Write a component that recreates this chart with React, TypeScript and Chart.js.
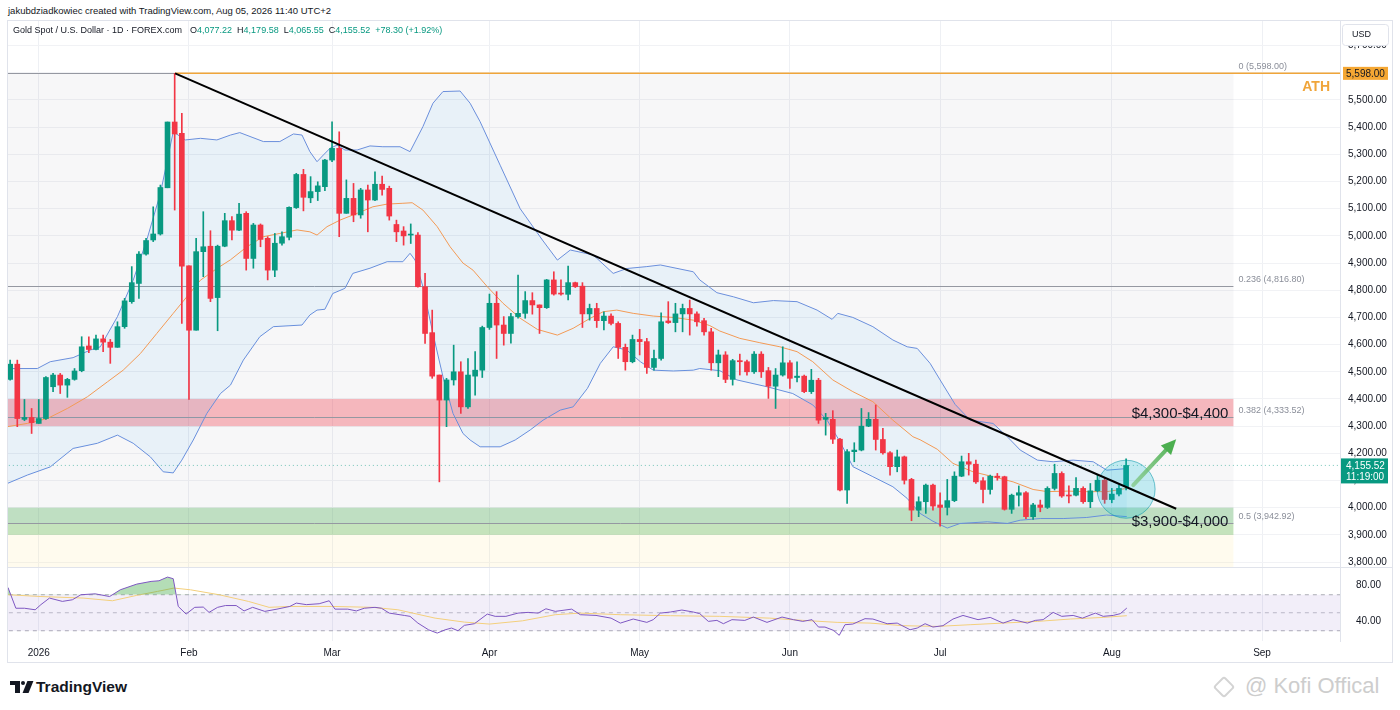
import React, { useEffect, useRef } from "react";
import { Chart, registerables } from "chart.js";

Chart.register(...registerables);

const FONT = '"Liberation Sans", Arial, sans-serif';
const UP = "#089981";
const DOWN = "#f23645";
const TEXT = "#131722";

// ---------- candles (daily, index 0 = Dec 26 2025) ----------
const candleOpen = [
  4472, 4528, 4325, 4332, 4310, 4328, 4445, 4488, 4451, 4472,
  4504, 4595, 4582, 4621, 4609, 4590, 4666, 4758, 4825, 4933,
  4985, 5007, 5177, 5419, 5377, 4890, 4653, 4942, 4962, 4773,
  4962, 5056, 5021, 5083, 4917, 5040, 4991, 4874, 4973, 4995,
  5104, 5226, 5140, 5163, 5181, 5279, 5322, 5083, 5138, 5077,
  5169, 5132, 5190, 5175, 5042, 5018, 5003, 5003, 4813, 4644,
  4488, 4396, 4470, 4500, 4371, 4484, 4506, 4663, 4752, 4672,
  4641, 4703, 4715, 4762, 4746, 4736, 4838, 4789, 4785, 4828,
  4815, 4713, 4733, 4688, 4705, 4678, 4590, 4537, 4619, 4611,
  4516, 4549, 4687, 4681, 4713, 4733, 4713, 4688, 4647, 4533,
  4562, 4472, 4541, 4537, 4500, 4565, 4504, 4447, 4488, 4533,
  4479, 4484, 4427, 4469, 4325, 4325, 4252, 4065, 4206, 4212,
  4300, 4325, 4251, 4202, 4151, 4187, 4104, 3991, 4022, 4083,
  4010, 4001, 4026, 4116, 4169, 4160, 4099, 4067, 4116, 4114,
  3994, 4046, 4055, 3967, 4010, 4001, 4071, 4126, 4046, 4046,
  4071, 4022, 4062, 4101, 4030, 4050, 4077.22,
];
const candleHigh = [
  4543, 4543, 4398, 4365, 4398, 4482, 4494, 4494, 4476, 4512,
  4629, 4629, 4635, 4635, 4619, 4684, 4770, 4887, 4942, 4991,
  5107, 5187, 5419, 5598, 5451, 4890, 4991, 5089, 5019, 4966,
  5083, 5071, 5120, 5089, 5046, 5044, 4997, 5009, 5015, 5107,
  5230, 5245, 5218, 5199, 5282, 5420, 5383, 5206, 5193, 5175,
  5187, 5236, 5220, 5183, 5058, 5034, 5044, 5012, 4862, 4727,
  4488, 4476, 4598, 4537, 4549, 4574, 4668, 4786, 4795, 4703,
  4715, 4856, 4795, 4791, 4746, 4840, 4868, 4838, 4889, 4830,
  4828, 4749, 4752, 4721, 4713, 4684, 4602, 4635, 4656, 4623,
  4580, 4717, 4758, 4752, 4749, 4764, 4721, 4697, 4660, 4580,
  4574, 4546, 4565, 4543, 4574, 4574, 4516, 4512, 4592, 4541,
  4537, 4488, 4509, 4476, 4347, 4357, 4255, 4214, 4239, 4365,
  4350, 4378, 4292, 4206, 4212, 4190, 4108, 4040, 4087, 4087,
  4055, 4104, 4132, 4190, 4200, 4175, 4111, 4120, 4126, 4116,
  4050, 4080, 4059, 4016, 4028, 4077, 4160, 4132, 4080, 4111,
  4077, 4089, 4120, 4111, 4071, 4083, 4179.58,
];
const candleLow = [
  4469, 4298, 4320, 4273, 4310, 4325, 4427, 4420, 4406, 4469,
  4500, 4570, 4580, 4574, 4531, 4590, 4660, 4752, 4770, 4929,
  4979, 5003, 5177, 5095, 4678, 4398, 4653, 4850, 4758, 4651,
  4960, 4985, 5019, 4874, 4881, 4960, 4838, 4850, 4966, 4985,
  5101, 5092, 5122, 5130, 5166, 5273, 4997, 5083, 5052, 5065,
  5015, 5130, 5150, 5058, 4979, 4966, 4972, 4811, 4604, 4476,
  4095, 4298, 4451, 4347, 4365, 4414, 4479, 4656, 4549, 4598,
  4605, 4697, 4697, 4712, 4641, 4733, 4782, 4782, 4764, 4810,
  4663, 4690, 4663, 4654, 4672, 4549, 4506, 4533, 4562, 4494,
  4506, 4543, 4678, 4647, 4647, 4635, 4668, 4635, 4506, 4482,
  4460, 4451, 4488, 4488, 4494, 4479, 4402, 4365, 4484, 4439,
  4463, 4423, 4420, 4310, 4267, 4236, 4062, 4016, 4169, 4209,
  4298, 4212, 4197, 4120, 4132, 4087, 3952, 3967, 3979, 3991,
  3932, 3973, 4022, 4114, 4120, 4089, 4018, 4050, 4101, 3991,
  3979, 4006, 3960, 3957, 3985, 3997, 4065, 4038, 4018, 4043,
  4016, 4000, 4059, 4016, 4018, 4043, 4065.55,
];
const candleClose = [
  4528, 4328, 4332, 4313, 4328, 4479, 4488, 4451, 4472, 4503,
  4592, 4582, 4621, 4609, 4590, 4666, 4761, 4828, 4933, 4983,
  5007, 5178, 5419, 5375, 4889, 4653, 4942, 4960, 4770, 4962,
  5056, 5021, 5080, 4917, 5040, 4987, 4874, 4973, 4997, 5105,
  5226, 5142, 5163, 5184, 5279, 5322, 5083, 5138, 5077, 5169,
  5132, 5190, 5171, 5073, 5015, 5000, 5006, 4813, 4641, 4484,
  4396, 4470, 4500, 4371, 4488, 4506, 4663, 4752, 4672, 4641,
  4703, 4715, 4762, 4746, 4736, 4838, 4786, 4786, 4828, 4813,
  4713, 4733, 4688, 4705, 4678, 4590, 4537, 4619, 4611, 4516,
  4549, 4684, 4681, 4713, 4733, 4713, 4684, 4647, 4533, 4562,
  4472, 4541, 4537, 4500, 4565, 4500, 4447, 4488, 4533, 4476,
  4484, 4427, 4469, 4322, 4332, 4252, 4065, 4206, 4212, 4300,
  4325, 4251, 4202, 4151, 4187, 4101, 3991, 4022, 4083, 4006,
  4001, 4026, 4116, 4169, 4160, 4095, 4067, 4116, 4111, 3994,
  4046, 4055, 3967, 4010, 4001, 4071, 4126, 4043, 4043, 4071,
  4022, 4062, 4101, 4030, 4050, 4071, 4155.52,
];

// ---------- axis ticks ----------
const monthTickIdx = [4, 25, 45, 67, 88, 109, 130, 154, 175];
const monthTickLabels = ["2026", "Feb", "Mar", "Apr", "May", "Jun", "Jul", "Aug", "Sep"];
const priceTicks = [3800, 3900, 4000, 4100, 4200, 4300, 4400, 4500, 4600, 4700, 4800, 4900, 5000, 5100, 5200, 5300, 5400, 5500, 5600, 5700];
const rsiTicks = [40, 80];

// ---------- Bollinger bands ([bar index, price]) ----------
const bbUpper = [
  [-0.4, 4512], [3.8, 4512], [5.6, 4537], [8.8, 4552], [11.2, 4580], [12.6, 4592], [15.0, 4703], [17.2, 4837],
  [19.1, 4985], [21.0, 5156], [22.8, 5383], [24.5, 5353], [26.6, 5359], [28.9, 5353], [30.8, 5371], [32.1, 5380],
  [35.4, 5347], [37.7, 5347], [39.6, 5375], [40.8, 5371], [41.9, 5310], [42.9, 5273], [43.8, 5298], [44.7, 5322],
  [45.7, 5334], [46.8, 5316], [48.5, 5316], [50.3, 5331], [52.1, 5328], [54.5, 5328], [55.9, 5310], [57.7, 5402],
  [59.1, 5488], [60.5, 5531], [62.9, 5533], [64.3, 5488], [65.7, 5420], [68.5, 5260], [71.3, 5100], [74.4, 4985],
  [76.5, 4911], [78.3, 4948], [81.5, 4930], [84.3, 4862], [86.2, 4880], [89.0, 4887], [90.9, 4893], [95.5, 4868],
  [96.4, 4838], [98.8, 4791], [101.1, 4776], [103.9, 4754], [106.7, 4762], [110.0, 4758], [112.8, 4727], [114.9, 4693],
  [115.7, 4715], [117.8, 4700], [120.6, 4666], [123.4, 4617], [125.4, 4592], [126.8, 4586], [128.6, 4531], [130.0, 4470],
  [132.1, 4380], [134.2, 4322], [137.4, 4310], [139.4, 4261], [141.2, 4212], [143.6, 4175], [145.8, 4169], [148.6, 4175],
  [151.4, 4169], [153.3, 4138], [156.1, 4144],
];
const bbLower = [
  [-0.4, 4089], [2.4, 4120], [5.6, 4150], [8.8, 4218], [12.2, 4237], [15.0, 4267], [17.2, 4237], [19.6, 4187],
  [21.4, 4132], [22.8, 4128], [24.0, 4175], [25.6, 4249], [27.5, 4347], [29.4, 4420], [30.8, 4451], [32.6, 4543],
  [34.9, 4629], [36.8, 4666], [40.8, 4672], [41.9, 4709], [42.9, 4727], [44.0, 4730], [45.1, 4788], [46.8, 4807],
  [47.9, 4862], [50.3, 4881], [52.7, 4905], [54.9, 4905], [55.9, 4936], [56.6, 4911], [57.7, 4813], [59.1, 4641],
  [60.5, 4482], [61.9, 4347], [63.3, 4273], [64.3, 4249], [65.7, 4224], [68.5, 4224], [70.6, 4249], [72.7, 4286],
  [74.5, 4322], [76.9, 4359], [78.7, 4371], [80.7, 4439], [82.5, 4531], [84.3, 4592], [86.2, 4580], [88.1, 4537],
  [89.9, 4506], [92.7, 4503], [95.5, 4506], [96.4, 4512], [99.2, 4504], [101.6, 4470], [105.8, 4445], [109.4, 4420],
  [112.2, 4378], [114.2, 4322], [116.0, 4243], [117.8, 4151], [120.6, 4114], [123.4, 4077], [125.4, 4034], [127.2, 3979],
  [129.0, 3950], [131.0, 3925], [132.8, 3942], [136.6, 3948], [139.4, 3942], [141.2, 3954], [144.0, 3960], [147.2, 3960],
  [150.5, 3964], [153.3, 3973], [156.1, 3967],
];
const bbBasis = [
  [-0.4, 4298], [2.4, 4310], [5.2, 4328], [8.0, 4365], [10.8, 4408], [13.6, 4463], [15.8, 4506], [18.2, 4567],
  [20.5, 4641], [22.8, 4715], [24.7, 4776], [26.6, 4837], [28.9, 4880], [30.8, 4912], [33.1, 4960], [35.4, 4997],
  [37.7, 5009], [40.1, 5022], [41.9, 5015], [42.9, 5003], [44.3, 5034], [46.1, 5058], [48.5, 5083], [50.7, 5107],
  [52.7, 5117], [54.9, 5120], [56.2, 5122], [57.7, 5095], [59.7, 5034], [61.5, 4960], [63.3, 4900], [64.7, 4874],
  [66.7, 4813], [68.9, 4752], [71.3, 4697], [73.7, 4656], [76.5, 4635], [78.7, 4660], [81.1, 4697], [82.9, 4721],
  [84.8, 4727], [87.1, 4715], [89.9, 4705], [92.7, 4700], [95.5, 4690], [97.8, 4670], [99.2, 4650], [102.0, 4623],
  [104.8, 4607], [107.6, 4592], [110.0, 4574], [112.2, 4537], [115.0, 4470], [117.8, 4427], [120.6, 4390], [123.4, 4322],
  [126.2, 4261], [127.2, 4250], [129.6, 4215], [131.8, 4163], [134.6, 4132], [137.4, 4114], [140.2, 4095], [143.0, 4067],
  [145.0, 4059], [147.8, 4061], [150.5, 4059], [153.3, 4059], [156.1, 4071],
];

// ---------- RSI pane ----------
const rsiLine = [
  [-0.3, 78], [0.8, 55], [2.0, 55], [3.5, 53.3], [4.3, 59], [5.5, 66.3], [7.3, 62.6], [8.7, 64.4], [9.9, 70],
  [11.9, 71], [13.9, 68], [15.4, 75.5], [17.7, 81.8], [19.7, 84.8], [20.8, 85.5], [22.0, 89.6], [22.8, 87.8],
  [23.5, 57], [24.6, 48.5], [25.8, 56], [27.0, 56.3], [27.8, 50.4], [29.0, 56], [30.1, 58], [31.6, 58], [32.7, 52],
  [33.9, 56], [35.6, 51.5], [37.3, 54], [39.1, 57], [40.0, 60.7], [41.4, 59], [43.2, 60], [44.6, 63.3], [45.4, 54],
  [47.2, 54], [48.4, 52], [49.5, 55], [51.0, 56], [51.9, 55], [53.0, 49.6], [55.1, 47], [55.9, 46], [57.0, 38.5],
  [58.5, 31], [59.7, 27.4], [60.8, 31], [61.7, 33], [62.6, 30], [63.5, 36], [64.9, 37.8], [66.7, 48.5], [67.8, 46],
  [69.3, 46], [71.0, 49.6], [72.4, 50.4], [73.8, 49.6], [74.9, 54.4], [76.2, 51.5], [78.5, 54], [79.7, 47.8],
  [81.9, 47], [84.0, 44], [85.3, 38.5], [87.1, 43], [89.0, 39.3], [89.9, 42.3], [90.9, 49.6], [92.3, 50.8],
  [93.9, 53], [95.5, 50.8], [96.4, 49], [97.6, 40.4], [98.8, 41.5], [99.7, 37.8], [100.9, 42.3], [102.7, 41.5],
  [103.9, 45.2], [105.8, 39.3], [107.9, 45.2], [109.5, 42.3], [110.8, 40.4], [112.1, 42.3], [113.0, 34.1],
  [113.9, 34.1], [115.1, 30.4], [115.9, 24.9], [116.7, 36.7], [117.8, 37.4], [119.5, 43.4], [120.6, 43],
  [122.6, 37.8], [124.0, 38.5], [125.8, 31.1], [126.8, 33], [127.9, 37.8], [129.0, 34.1], [130.4, 35.6],
  [131.8, 43], [133.2, 47], [135.3, 42.3], [137.0, 44.8], [138.8, 38.5], [140.2, 42.3], [142.2, 38.5],
  [143.3, 41.5], [144.4, 42.3], [145.8, 50.4], [147.0, 46], [148.6, 47], [149.9, 44], [151.7, 49.6],
  [152.8, 46], [154.2, 47], [155.2, 49], [156.1, 55.2],
];
const rsiMa = [
  [-0.3, 70], [4.3, 68], [10.2, 66.3], [14.3, 63.3], [17.7, 69.3], [20.6, 73.7], [22.9, 77.4], [25.2, 75.5],
  [29.2, 70], [33.3, 62.6], [36.2, 56], [39.1, 57], [44.9, 57], [50.7, 56], [54.2, 53.3], [59.4, 44], [63.5, 39.6],
  [67.0, 37.4], [71.6, 41], [76.2, 47.8], [79.7, 49.6], [85.3, 47.8], [92.3, 46.7], [99.2, 46], [106.2, 44],
  [110.8, 41.5], [115.6, 39.3], [120.2, 38.5], [124.8, 35.6], [129.6, 34.8], [134.2, 36.7], [138.8, 38.5],
  [143.6, 40.4], [148.2, 43], [152.8, 44.8], [156.1, 46.7],
];
const rsiLevels = [70, 50, 30];

// ---------- drawings ----------
const fibRatios = ["0", "0.236", "0.382", "0.5", "0.618"];
const fibPrices = [5598, 4816.8, 4333.52, 3942.92, 3552.3];
const fibEndIdx = 171;
const resistanceZone = [4300, 4400];
const supportZone = [3900, 4000];
const resistanceLabel = "$4,300-$4,400";
const supportLabel = "$3,900-$4,000";
const trendLine = [[23.06, 5598], [163, 3996]];
const athStartIdx = 23.06;
const athPrice = 5598;
const lastPrice = 4155.52;
const lastTime = "11:19:00";
const arrowLine = [[157, 4083], [163, 4252]];
const focusCircle = { x: 156, y: 4068, r: 29 };

const X_MIN = -0.3;
const X_MAX = 185.9;
const PRICE_MIN = 3778.1;
const PRICE_MAX = 5794.3;
const RSI_MIN = 18.6;
const RSI_MAX = 99.7;
const AXIS_W = 52;

const fmt2 = (v: number) =>
  v.toLocaleString("en-US", { minimumFractionDigits: 2, maximumFractionDigits: 2 });
const pts = (arr: number[][]) => arr.map(([x, y]) => ({ x, y }));
const zeroPad = (s: any) => {
  s.paddingTop = 0;
  s.paddingBottom = 0;
  s.paddingLeft = 0;
  s.paddingRight = 0;
};

const BODY_INDEX = 1;

function PriceChart() {
  const ref = useRef<HTMLCanvasElement>(null);
  useEffect(() => {
    const ids = candleOpen.map((_, i) => i);
    const cols = ids.map((i) => (candleClose[i] >= candleOpen[i] ? UP : DOWN));

    const overlay = {
      id: "overlay",
      beforeDatasetsDraw(chart: any) {
        const { ctx, chartArea: a, scales } = chart;
        const x = scales.x;
        const y = scales.y;
        const xl = a.left;
        const xr = x.getPixelForValue(fibEndIdx);
        ctx.save();
        ctx.beginPath();
        ctx.rect(a.left, a.top, a.width, a.height);
        ctx.clip();
        const fills = ["rgba(120,123,134,0.06)", "rgba(120,123,134,0.06)", "rgba(120,123,134,0.06)", "rgba(255,232,150,0.16)"];
        for (let i = 0; i < fibPrices.length - 1; i++) {
          const y1 = y.getPixelForValue(fibPrices[i]);
          const y2 = y.getPixelForValue(fibPrices[i + 1]);
          ctx.fillStyle = fills[i];
          ctx.fillRect(xl, y1, xr - xl, y2 - y1);
        }
        const zone = (z: number[], c: string) => {
          const y1 = y.getPixelForValue(z[1]);
          const y2 = y.getPixelForValue(z[0]);
          ctx.fillStyle = c;
          ctx.fillRect(xl, y1, xr - xl, y2 - y1);
        };
        zone(resistanceZone, "rgba(242,54,69,0.33)");
        zone(supportZone, "rgba(76,175,80,0.32)");
        ctx.strokeStyle = "#9598a1";
        ctx.lineWidth = 1;
        for (let i = 0; i < fibPrices.length; i++) {
          const yy = Math.round(y.getPixelForValue(fibPrices[i])) + 0.5;
          ctx.beginPath();
          ctx.moveTo(xl, yy);
          ctx.lineTo(xr, yy);
          ctx.stroke();
        }
        ctx.restore();
      },
      afterDatasetDraw(chart: any, args: any) {
        if (args.index !== BODY_INDEX) return;
        const { ctx, scales } = chart;
        const cx = scales.x.getPixelForValue(focusCircle.x);
        const cy = scales.y.getPixelForValue(focusCircle.y);
        ctx.save();
        ctx.beginPath();
        ctx.arc(cx, cy, focusCircle.r, 0, Math.PI * 2);
        ctx.fillStyle = "rgba(0,188,212,0.22)";
        ctx.fill();
        ctx.strokeStyle = "rgba(0,150,170,0.55)";
        ctx.lineWidth = 1;
        ctx.stroke();
        ctx.restore();
      },
      afterDatasetsDraw(chart: any) {
        const { ctx, scales } = chart;
        const x = scales.x;
        const y = scales.y;
        const xr = x.getPixelForValue(fibEndIdx);
        ctx.save();
        // fib labels
        ctx.font = `9px ${FONT}`;
        ctx.fillStyle = "#8a8e99";
        ctx.textAlign = "left";
        ctx.textBaseline = "alphabetic";
        for (let i = 0; i < 4; i++) {
          const yy = y.getPixelForValue(fibPrices[i]);
          ctx.fillText(`${fibRatios[i]} (${fmt2(fibPrices[i])})`, xr + 5, yy - 4);
        }
        // zone labels
        ctx.font = `15px ${FONT}`;
        ctx.fillStyle = "#131722";
        ctx.textAlign = "right";
        ctx.textBaseline = "middle";
        ctx.fillText(resistanceLabel, xr - 5, y.getPixelForValue((resistanceZone[0] + resistanceZone[1]) / 2) + 1);
        ctx.fillText(supportLabel, xr - 5, y.getPixelForValue((supportZone[0] + supportZone[1]) / 2) + 1);
        // arrow
        const ax1 = x.getPixelForValue(arrowLine[0][0]);
        const ay1 = y.getPixelForValue(arrowLine[0][1]);
        const ax2 = x.getPixelForValue(arrowLine[1][0]);
        const ay2 = y.getPixelForValue(arrowLine[1][1]);
        const ang = Math.atan2(ay2 - ay1, ax2 - ax1);
        const head = 15;
        const bx = ax2 - Math.cos(ang) * head;
        const by = ay2 - Math.sin(ang) * head;
        const grad = ctx.createLinearGradient(ax1, ay1, ax2, ay2);
        grad.addColorStop(0, "rgba(129,199,132,0.75)");
        grad.addColorStop(1, "#4caf50");
        ctx.strokeStyle = grad;
        ctx.fillStyle = "#4caf50";
        ctx.lineWidth = 4;
        ctx.lineCap = "round";
        ctx.beginPath();
        ctx.moveTo(ax1, ay1);
        ctx.lineTo(bx + Math.cos(ang) * 2, by + Math.sin(ang) * 2);
        ctx.stroke();
        const px = -Math.sin(ang);
        const py = Math.cos(ang);
        ctx.beginPath();
        ctx.moveTo(ax2, ay2);
        ctx.lineTo(bx + px * 7, by + py * 7);
        ctx.lineTo(bx - px * 7, by - py * 7);
        ctx.closePath();
        ctx.fill();
        ctx.restore();
      },
      afterDraw(chart: any) {
        const { ctx, chartArea: a, scales } = chart;
        const y = scales.y;
        const axL = a.right;
        ctx.save();
        // "ATH" text
        const yAth = y.getPixelForValue(athPrice);
        ctx.font = `bold 14px ${FONT}`;
        ctx.fillStyle = "#f0a53a";
        ctx.textAlign = "right";
        ctx.textBaseline = "middle";
        ctx.fillText("ATH", a.right - 10, yAth + 14);
        // ATH price tag
        ctx.fillStyle = "#f5a733";
        ctx.fillRect(axL + 3, yAth - 6.5, 45, 13);
        ctx.fillStyle = TEXT;
        ctx.font = `10px ${FONT}`;
        ctx.textAlign = "left";
        ctx.fillText(fmt2(athPrice), axL + 6, yAth + 0.5);
        // last price tag
        const yl = y.getPixelForValue(lastPrice);
        ctx.fillStyle = UP;
        ctx.fillRect(axL + 1, yl - 7, 47, 25);
        ctx.fillStyle = "#ffffff";
        ctx.fillText(fmt2(lastPrice), axL + 6, yl + 0.5);
        ctx.fillText(lastTime, axL + 6, yl + 11.5);
        // USD box
        ctx.fillStyle = "#ffffff";
        ctx.strokeStyle = "#e0e3eb";
        ctx.lineWidth = 1;
        ctx.beginPath();
        ctx.roundRect(axL + 2.5, 4.5, 46, 21, 3);
        ctx.fill();
        ctx.stroke();
        ctx.fillStyle = TEXT;
        ctx.font = `9px ${FONT}`;
        ctx.fillText("USD", axL + 12, 15);
        ctx.restore();
      },
    };

    const chart = new Chart(ref.current as HTMLCanvasElement, {
      type: "bar",
      data: {
        datasets: [
          {
            type: "line",
            data: pts(trendLine),
            borderColor: "#000000",
            borderWidth: 2,
            pointRadius: 0,
            order: -1,
          },
          {
            type: "bar",
            data: ids.map((i) => ({ x: i, y: [candleOpen[i], candleClose[i]] })),
            backgroundColor: cols,
            borderWidth: 0,
            barThickness: 5,
            minBarLength: 1,
            grouped: false,
            order: 0,
          } as any,
          {
            type: "bar",
            data: ids.map((i) => ({ x: i, y: [candleLow[i], candleHigh[i]] })),
            backgroundColor: cols,
            borderWidth: 0,
            barThickness: 1,
            grouped: false,
            order: 1,
          } as any,
          {
            type: "line",
            data: pts(bbBasis),
            borderColor: "#f39a55",
            borderWidth: 1,
            pointRadius: 0,
            order: 2,
          },
          {
            type: "line",
            data: [{ x: athStartIdx, y: athPrice }, { x: X_MAX + 1, y: athPrice }],
            borderColor: "#f0a53a",
            borderWidth: 1.5,
            pointRadius: 0,
            order: 2,
          },
          {
            type: "line",
            data: [{ x: X_MIN - 1, y: lastPrice }, { x: X_MAX + 1, y: lastPrice }],
            borderColor: "rgba(8,153,129,0.55)",
            borderDash: [1, 3],
            borderWidth: 1,
            pointRadius: 0,
            order: 2,
          },
          {
            type: "line",
            data: pts(bbUpper),
            borderColor: "#6b8fdc",
            borderWidth: 1,
            pointRadius: 0,
            fill: "+1",
            backgroundColor: "rgba(33,150,243,0.07)",
            order: 3,
          },
          {
            type: "line",
            data: pts(bbLower),
            borderColor: "#6b8fdc",
            borderWidth: 1,
            pointRadius: 0,
            order: 3,
          },
        ],
      },
      options: {
        animation: false,
        responsive: true,
        maintainAspectRatio: false,
        events: [],
        layout: { padding: 0 },
        plugins: { legend: { display: false }, tooltip: { enabled: false } },
        scales: {
          x: {
            type: "linear",
            min: X_MIN,
            max: X_MAX,
            offset: false,
            afterBuildTicks: (s: any) => {
              s.ticks = monthTickIdx.map((v) => ({ value: v }));
            },
            ticks: { display: false },
            grid: { color: "#eef0f4", drawTicks: false, offset: false },
            border: { display: false },
            afterFit: (s: any) => {
              s.height = 0;
              zeroPad(s);
            },
          },
          y: {
            type: "linear",
            position: "right",
            min: PRICE_MIN,
            max: PRICE_MAX,
            afterBuildTicks: (s: any) => {
              s.ticks = priceTicks.map((v) => ({ value: v }));
            },
            ticks: {
              callback: (v: any) => fmt2(Number(v)),
              color: TEXT,
              font: { size: 10, family: FONT },
              padding: 8,
            },
            grid: { color: "#f1f2f5", drawTicks: false },
            border: { display: true, color: "#e0e3eb" },
            afterFit: (s: any) => {
              s.width = AXIS_W;
              zeroPad(s);
            },
          },
        },
      } as any,
      plugins: [overlay],
    });
    return () => chart.destroy();
  }, []);
  return (
    <div style={{ position: "absolute", left: 8, top: 20, width: 1384, height: 548 }}>
      <canvas ref={ref} />
    </div>
  );
}

function RsiChart() {
  const ref = useRef<HTMLCanvasElement>(null);
  useEffect(() => {
    const level = (v: number) => [{ x: X_MIN - 1, y: v }, { x: X_MAX + 1, y: v }];
    const chart = new Chart(ref.current as HTMLCanvasElement, {
      type: "line",
      data: {
        datasets: [
          {
            data: pts(rsiMa),
            borderColor: "#f3cf7c",
            borderWidth: 1,
            pointRadius: 0,
            order: 1,
          },
          {
            data: pts(rsiLine),
            borderColor: "#7e57c2",
            borderWidth: 1,
            pointRadius: 0,
            fill: { target: { value: 70 }, above: "rgba(76,175,80,0.42)", below: "rgba(0,0,0,0)" },
            order: 0,
          },
          {
            data: level(rsiLevels[0]),
            borderColor: "rgba(120,123,134,0.6)",
            borderDash: [4, 4],
            borderWidth: 1,
            pointRadius: 0,
            fill: { value: rsiLevels[2] },
            backgroundColor: "rgba(126,87,194,0.1)",
            order: 3,
          },
          {
            data: level(rsiLevels[1]),
            borderColor: "rgba(120,123,134,0.45)",
            borderDash: [4, 4],
            borderWidth: 1,
            pointRadius: 0,
            order: 3,
          },
          {
            data: level(rsiLevels[2]),
            borderColor: "rgba(120,123,134,0.6)",
            borderDash: [4, 4],
            borderWidth: 1,
            pointRadius: 0,
            order: 3,
          },
        ],
      } as any,
      options: {
        animation: false,
        responsive: true,
        maintainAspectRatio: false,
        events: [],
        layout: { padding: 0 },
        plugins: { legend: { display: false }, tooltip: { enabled: false } },
        scales: {
          x: {
            type: "linear",
            min: X_MIN,
            max: X_MAX,
            afterBuildTicks: (s: any) => {
              s.ticks = monthTickIdx.map((v) => ({ value: v }));
            },
            ticks: {
              callback: (_v: any, i: number) => monthTickLabels[i],
              color: TEXT,
              font: { size: 10, family: FONT },
              padding: 6,
              autoSkip: false,
              maxRotation: 0,
            },
            grid: { color: "#eef0f4", drawTicks: false },
            border: { display: false },
            afterFit: (s: any) => {
              s.height = 21;
              zeroPad(s);
            },
          },
          y: {
            type: "linear",
            position: "right",
            min: RSI_MIN,
            max: RSI_MAX,
            afterBuildTicks: (s: any) => {
              s.ticks = rsiTicks.map((v) => ({ value: v }));
            },
            ticks: {
              callback: (v: any) => Number(v).toFixed(2),
              color: TEXT,
              font: { size: 10, family: FONT },
              padding: 8,
            },
            grid: { display: false },
            border: { display: true, color: "#e0e3eb" },
            afterFit: (s: any) => {
              s.width = AXIS_W;
              zeroPad(s);
            },
          },
        },
      } as any,
    });
    return () => chart.destroy();
  }, []);
  return (
    <div style={{ position: "absolute", left: 8, top: 568, width: 1384, height: 94 }}>
      <canvas ref={ref} />
    </div>
  );
}

function TvLogo() {
  const b = { position: "absolute" as const, background: "#131722" };
  return (
    <div style={{ position: "absolute", left: 10, top: 680, width: 130, height: 16 }}>
      <div style={{ ...b, left: 0, top: 1, width: 10, height: 4 }} />
      <div style={{ ...b, left: 5, top: 1, width: 5, height: 12 }} />
      <div style={{ ...b, left: 11, top: 1, width: 4, height: 4, borderRadius: 2 }} />
      <div style={{ ...b, left: 15, top: 1, width: 6, height: 12, transform: "skewX(-22deg)" }} />
      <div
        style={{
          position: "absolute",
          left: 26,
          top: -2,
          font: `bold 15.5px ${FONT}`,
          color: "#131722",
          whiteSpace: "nowrap",
        }}
      >
        TradingView
      </div>
    </div>
  );
}

export default function App() {
  useEffect(() => {
    document.body.style.margin = "0";
  }, []);
  const green = { color: UP };
  return (
    <div
      style={{
        position: "fixed",
        left: 0,
        top: 0,
        width: 1400,
        height: 710,
        background: "#ffffff",
        fontFamily: FONT,
        overflow: "hidden",
      }}
    >
      <div style={{ position: "absolute", left: 8, top: 5, fontSize: 9.5, color: TEXT, whiteSpace: "nowrap" }}>
        jakubdziadkowiec created with TradingView.com, Aug 05, 2026 11:40 UTC+2
      </div>
      <PriceChart />
      <RsiChart />
      <div
        style={{
          position: "absolute",
          left: 13,
          top: 25,
          fontSize: 9,
          color: TEXT,
          whiteSpace: "nowrap",
          zIndex: 2,
        }}
      >
        Gold Spot / U.S. Dollar · 1D · FOREX.com
        <span style={{ marginLeft: 8 }}>O</span>
        <span style={green}>4,077.22</span>
        <span style={{ marginLeft: 5 }}>H</span>
        <span style={green}>4,179.58</span>
        <span style={{ marginLeft: 5 }}>L</span>
        <span style={green}>4,065.55</span>
        <span style={{ marginLeft: 5 }}>C</span>
        <span style={green}>4,155.52</span>
        <span style={{ ...green, marginLeft: 5 }}>+78.30 (+1.92%)</span>
      </div>
      <div style={{ position: "absolute", left: 8, top: 567, width: 1384, height: 1, background: "#e0e3eb" }} />
      <div
        style={{
          position: "absolute",
          left: 7,
          top: 20,
          width: 1386,
          height: 643,
          border: "1px solid #e0e3eb",
          boxSizing: "border-box",
          pointerEvents: "none",
        }}
      />
      <TvLogo />
      <div
        style={{
          position: "absolute",
          left: 1216,
          top: 679,
          width: 16,
          height: 16,
          border: "2px solid #d4d4d4",
          borderRadius: 3,
          transform: "rotate(45deg)",
          boxSizing: "border-box",
        }}
      />
      <div
        style={{
          position: "absolute",
          left: 1245,
          top: 673,
          fontSize: 22,
          color: "#cdcdcd",
          whiteSpace: "nowrap",
        }}
      >
        @ Kofi Offical
      </div>
    </div>
  );
}
